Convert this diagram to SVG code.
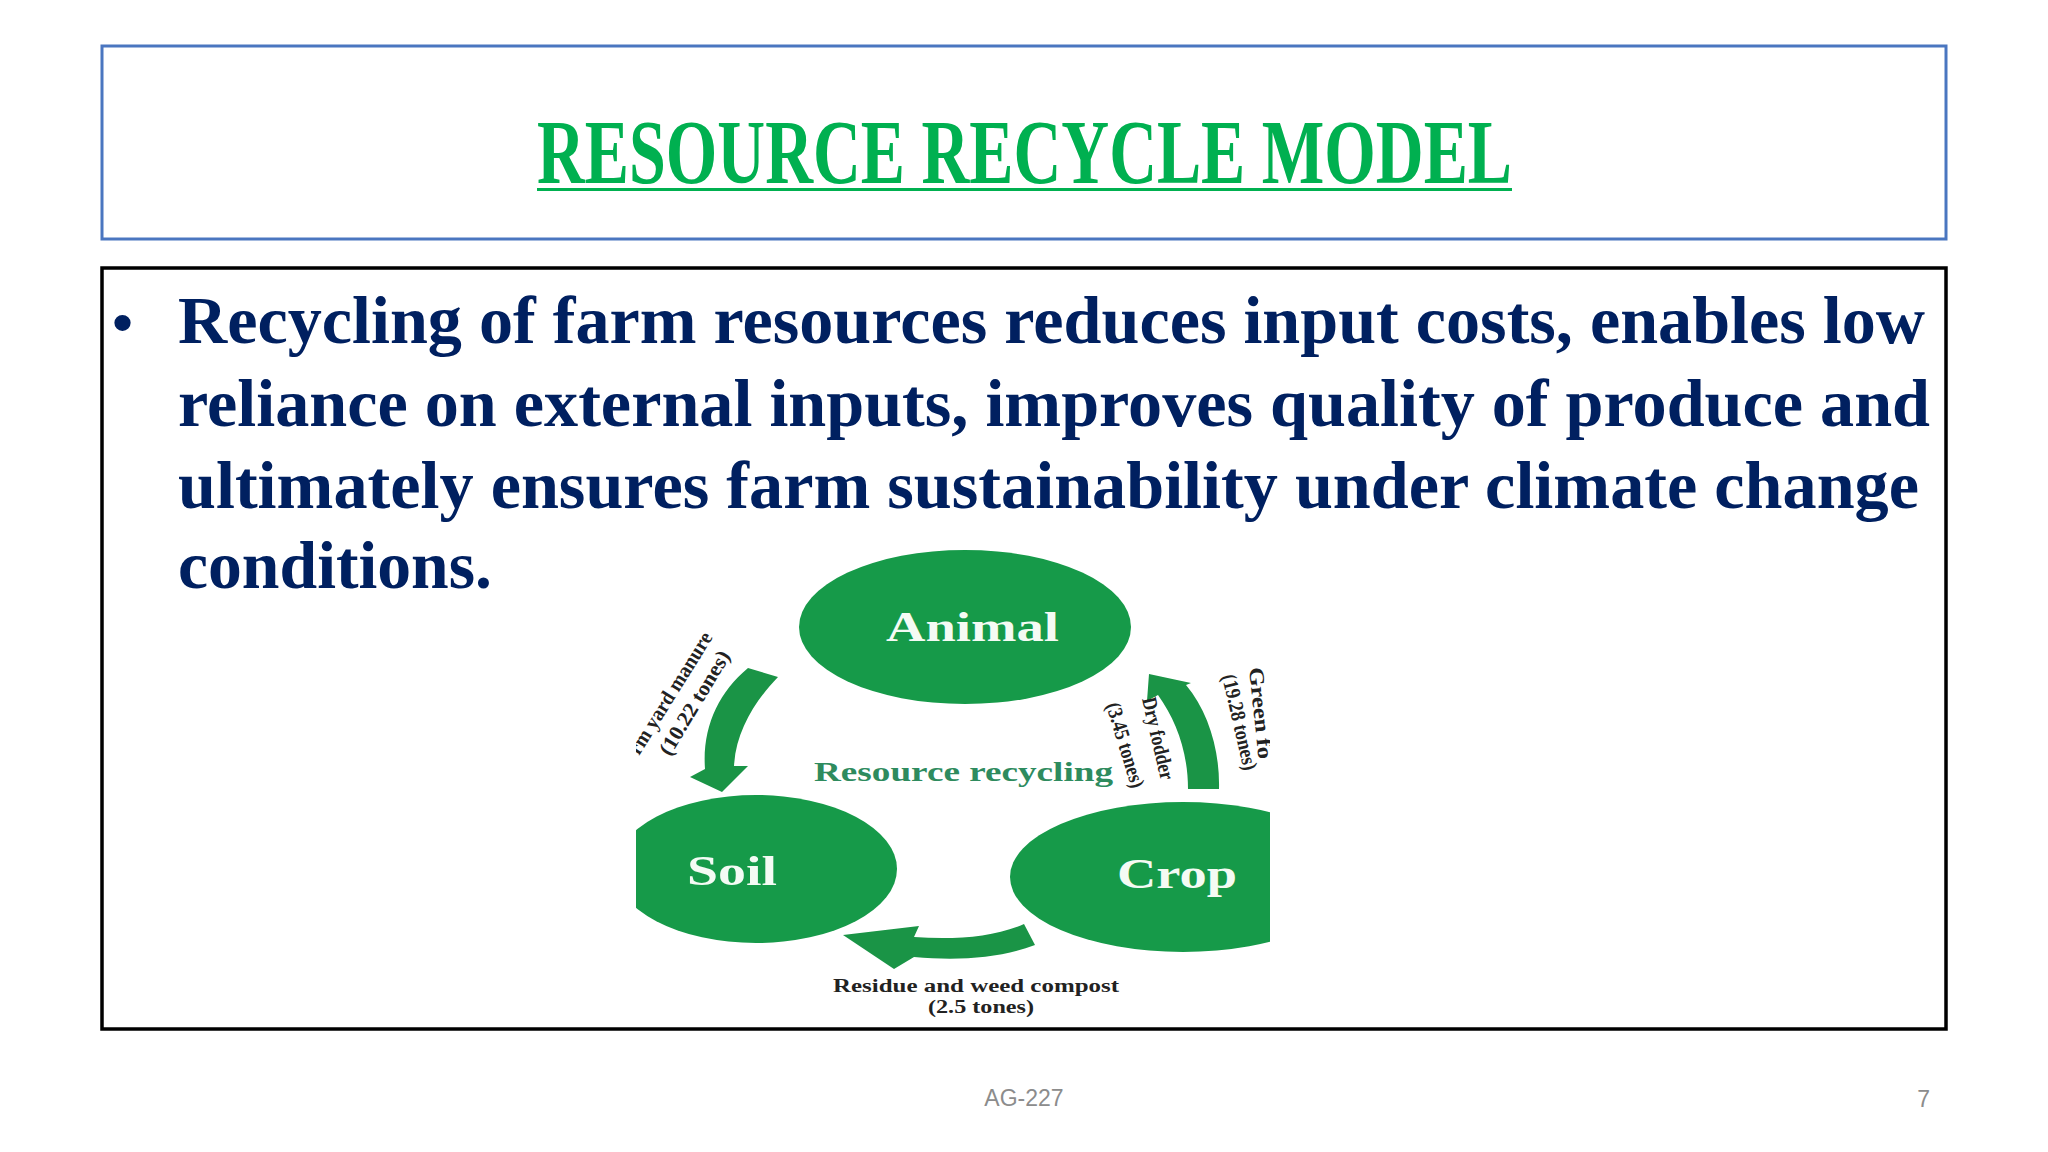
<svg xmlns="http://www.w3.org/2000/svg" width="2048" height="1152" viewBox="0 0 2048 1152">
<style>
.body{font-family:"Liberation Serif","Times New Roman",serif;font-weight:bold;font-size:68px;fill:#002060}
.node{fill:#169A49}
.nlabel{font-family:"Liberation Serif","Times New Roman",serif;font-weight:bold;font-size:42px;fill:#F4FBF4}
.arrow{fill:#1A9446}
.lbl{font-family:"Liberation Serif","Times New Roman",serif;font-weight:bold;font-size:21px;fill:#222222}
.lbl2{font-family:"Liberation Serif","Times New Roman",serif;font-weight:bold;font-size:18px;fill:#222222}
.foot{font-family:"Liberation Sans",Arial,sans-serif;font-size:23px;fill:#8C8C8C}
</style>
<rect width="2048" height="1152" fill="#ffffff"/>
<g id="title">
<rect x="102" y="46" width="1844" height="193" fill="none" stroke="#4A76C0" stroke-width="3"/>
<text x="537" y="183" font-family="'Liberation Serif','Times New Roman',serif" font-weight="bold" font-size="92" fill="#00B050" textLength="975" lengthAdjust="spacingAndGlyphs">RESOURCE RECYCLE MODEL</text>
<rect x="537" y="188" width="975" height="3" fill="#00B050"/>
</g>
<g id="content">
<rect x="102" y="268" width="1844" height="761" fill="none" stroke="#000000" stroke-width="3.5"/>
<text x="112" y="343" font-family="'Liberation Sans',Arial,sans-serif" font-size="60" fill="#002060">•</text>
<text class="body" x="178" y="343" textLength="1747" lengthAdjust="spacingAndGlyphs">Recycling of farm resources reduces input costs, enables low</text>
<text class="body" x="178" y="426" textLength="1752" lengthAdjust="spacingAndGlyphs">reliance on external inputs, improves quality of produce and</text>
<text class="body" x="178" y="508" textLength="1741" lengthAdjust="spacingAndGlyphs">ultimately ensures farm sustainability under climate change</text>
<text class="body" x="178" y="588" textLength="314" lengthAdjust="spacingAndGlyphs">conditions.</text>
</g>
<defs>
<clipPath id="img"><rect x="636" y="549" width="634" height="470"/></clipPath>
</defs>
<g id="diagram" clip-path="url(#img)">
<g id="node-animal">
<ellipse class="node" cx="965" cy="627" rx="166" ry="77"/>
<text class="nlabel" x="886" y="641" textLength="173" lengthAdjust="spacingAndGlyphs">Animal</text>
</g>
<g id="node-soil">
<ellipse class="node" cx="756" cy="869" rx="141" ry="74"/>
<text class="nlabel" x="687" y="885" textLength="90" lengthAdjust="spacingAndGlyphs">Soil</text>
</g>
<g id="node-crop">
<ellipse class="node" cx="1183" cy="877" rx="173" ry="75"/>
<text class="nlabel" x="1117" y="888" textLength="120" lengthAdjust="spacingAndGlyphs">Crop</text>
</g>
<g id="connectors">
<path class="arrow" d="M748,668 L778,677 C756,700 736,730 734,766 L748,766 L722,792 L690,777 L705,769 C702,728 718,693 748,668 Z"/>
<path class="arrow" d="M1188,789 L1219,789 C1220,750 1208,711 1186,685 L1191,683 L1149,674 L1147,701 L1158,695 C1176,720 1188,752 1188,789 Z"/>
<path class="arrow" d="M1024,924 L1035,945 C1000,958 960,961 914,957 L894,969 L843,935 L919,926 L914,937 C955,940 994,937 1024,924 Z"/>
</g>
<g id="labels">
<text font-family="'Liberation Serif','Times New Roman',serif" font-weight="bold" font-size="28" fill="#2E8B5E" x="814" y="781" textLength="299" lengthAdjust="spacingAndGlyphs">Resource recycling</text>
<text class="lbl" transform="translate(639,756) rotate(-58)" textLength="140" lengthAdjust="spacingAndGlyphs">rm yard manure</text>
<text class="lbl" transform="translate(670,757) rotate(-59)" textLength="118" lengthAdjust="spacingAndGlyphs">(10.22 tones)</text>
<text class="lbl" transform="translate(1249,668) rotate(84)" textLength="92" lengthAdjust="spacingAndGlyphs">Green fo</text>
<text class="lbl" transform="translate(1222,676) rotate(77)" textLength="98" lengthAdjust="spacingAndGlyphs">(19.28 tones)</text>
<text class="lbl" transform="translate(1142,699) rotate(77)" textLength="84" lengthAdjust="spacingAndGlyphs">Dry fodder</text>
<text class="lbl" transform="translate(1106,705) rotate(73)" textLength="88" lengthAdjust="spacingAndGlyphs">(3.45 tones)</text>
<text class="lbl2" x="833" y="992" textLength="286" lengthAdjust="spacingAndGlyphs">Residue and weed compost</text>
<text class="lbl2" x="981" y="1013" text-anchor="middle" textLength="106" lengthAdjust="spacingAndGlyphs">(2.5 tones)</text>
</g>
</g>
<g id="footer">
<text class="foot" x="1024" y="1106" text-anchor="middle">AG-227</text>
<text class="foot" x="1930" y="1107" text-anchor="end">7</text>
</g>
</svg>
